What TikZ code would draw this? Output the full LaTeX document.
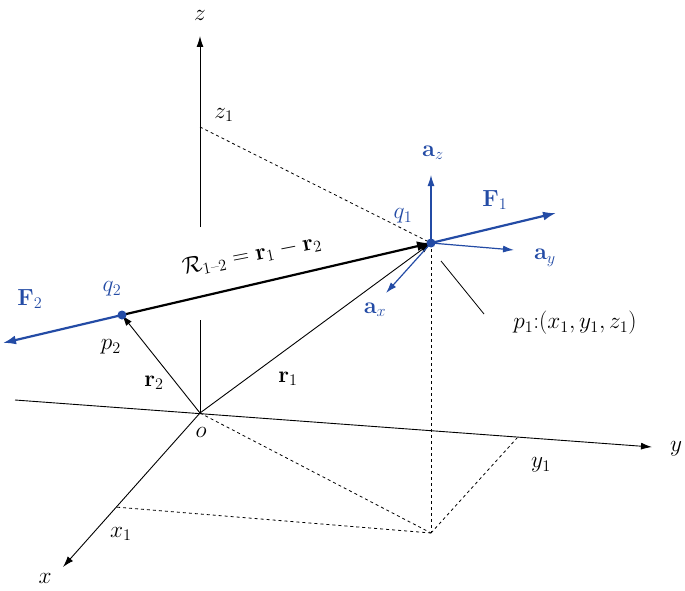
\documentclass[tikz,border=0pt]{standalone}
\usepackage{amsmath,amssymb}
\usetikzlibrary{arrows.meta}
\definecolor{bl}{RGB}{35,75,165}
\begin{document}
\begin{tikzpicture}[x=1pt,y=-1pt,font=\LARGE,
 ax/.style={line width=0.9pt,-{Latex[length=11pt,width=7pt]}},
 dsh/.style={dashed,line width=0.8pt},
 bv/.style={bl,line width=1.2pt,-{Latex[length=11pt,width=7pt]}},
 bvt/.style={bl,line width=2.2pt,-{Latex[length=13pt,width=9pt]}},
 lab/.style={inner sep=0pt,scale=1.35}]
\useasboundingbox (0,0) rectangle (685,591);
\coordinate (O) at (200,413);
\coordinate (Ztop) at (200,36);
\coordinate (Zg1) at (200,227);
\coordinate (Zg2) at (200,320);
\coordinate (Yend) at (652,447);
\coordinate (Yst) at (15,400);
\coordinate (Xend) at (63,567);
\coordinate (Q1) at (431,243);
\coordinate (Q2) at (122,315);
\coordinate (Z1) at (200,127);
\coordinate (B) at (431,533);
\coordinate (X1) at (115,507);
\coordinate (Y1) at (517,438);
\draw[line width=0.9pt] (O) -- (Zg2);
\draw[ax] (Zg1) -- (Ztop);
\draw[ax] (Yst) -- (Yend);
\draw[ax] (O) -- (Xend);
\draw[dsh] (Z1) -- (Q1);
\draw[dsh] (Q1) -- (B);
\draw[dsh] (B) -- (X1);
\draw[dsh] (B) -- (Y1);
\draw[dsh] (O) -- (B);
\draw[ax] (O) -- (Q1);
\draw[ax] (O) -- (Q2);
\draw[line width=2.2pt,-{Latex[length=14pt,width=10pt]}] (Q2) -- (Q1);
\draw[bvt] (Q2) -- (3,343);
\draw[bvt] (Q1) -- (556,213);
\draw[bv] (Q1) -- (431,175);
\draw[bv] (Q1) -- (514,250);
\draw[bv] (Q1) -- (386,293);
\fill[bl] (Q1) circle (4.5pt);
\fill[bl] (Q2) circle (4.5pt);
\draw[line width=0.8pt] (441,261) -- (484,314);
\node[lab] (lz) at (200,15) {$z$};
\node[lab] (ly) at (676,449) {$y$};
\node[lab] (lx) at (45,578) {$x$};
\node[lab] (lo) at (201,432) {$o$};
\node[lab] (lz1) at (224,115) {$z_1$};
\node[lab] (ly1) at (541,465) {$y_1$};
\node[lab] (lx1) at (121,534) {$x_1$};
\node[lab,bl] (lq1) at (403,216) {$q_1$};
\node[lab,bl] (lq2) at (112,289) {$q_2$};
\node[lab] (lp2) at (111,347) {$p_2$};
\node[lab] (lp1) at (575,323) {$p_1{:}(x_1,y_1,z_1)$};
\node[lab,bl] (lF2) at (30,299) {$\mathbf{F}_2$};
\node[lab,bl] (lF1) at (495,200) {$\mathbf{F}_1$};
\node[lab,bl] (laz) at (433,153) {$\mathbf{a}_z$};
\node[lab,bl] (lay) at (545,258) {$\mathbf{a}_y$};
\node[lab,bl] (lax) at (375,310) {$\mathbf{a}_x$};
\node[lab] (lr1) at (288,379) {$\mathbf{r}_1$};
\node[lab] (lr2) at (154,383) {$\mathbf{r}_2$};
\node[lab,rotate=11] (lR) at (252,255) {$\mathcal{R}_{1\text{–}2}=\mathbf{r}_1-\mathbf{r}_2$};
\end{tikzpicture}
\end{document}
